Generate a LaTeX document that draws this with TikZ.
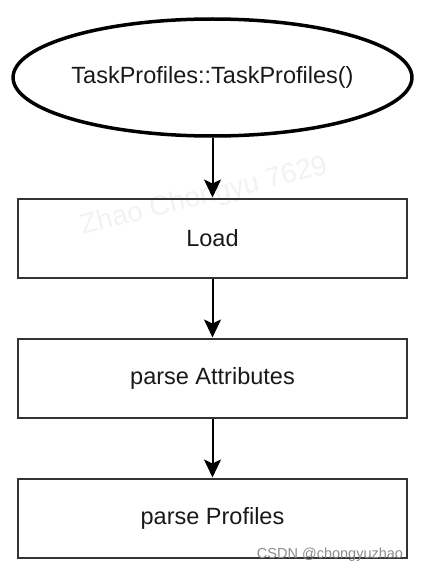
\documentclass[tikz,border=0pt]{standalone}
\usepackage{fontspec}
\setmainfont{Liberation Sans}
\usetikzlibrary{shapes.geometric,arrows.meta}

\tikzset{
    flowstart/.style={draw=black, ellipse, line width=3.5pt, minimum width=338pt, minimum height=117pt, inner sep=0pt, text=black!90, font=\fontsize{23.5}{28}\selectfont},
    flowbox/.style={draw=black!80, rectangle, line width=2pt, minimum width=389pt, minimum height=79pt, inner sep=0pt, text=black!90, font=\fontsize{23.5}{28}\selectfont},
    flowarrow/.style={-{Stealth[length=18pt,width=17pt,inset=4pt]}, line width=2pt},
    mark text/.style={text=black!5, font=\fontsize{28}{32}\selectfont}
}

\begin{document}
\begin{tikzpicture}[x=1pt, y=-1pt]

    \useasboundingbox (0,0) rectangle (424,575);

    \node [mark text, rotate=14] at (204,197) (wmark) {Zhao Chongyu 7629};

    \node [flowstart] at (212.5,77.5) (ctor) {TaskProfiles::TaskProfiles()};
    \node [flowbox] at (212.5,238) (load) {Load};
    \node [flowbox] at (212.5,378) (attrs) {parse Attributes};
    \node [flowbox] at (212.5,518) (profiles) {parse Profiles};

    \path [flowarrow, draw] (ctor) -- (load);
    \path [flowarrow, draw] (load) -- (attrs);
    \path [flowarrow, draw] (attrs) -- (profiles);

    \node [text=black!45, font=\fontsize{14.5}{17}\selectfont] at (330,555) (csdn) {CSDN @chongyuzhao};

\end{tikzpicture}
\end{document}
